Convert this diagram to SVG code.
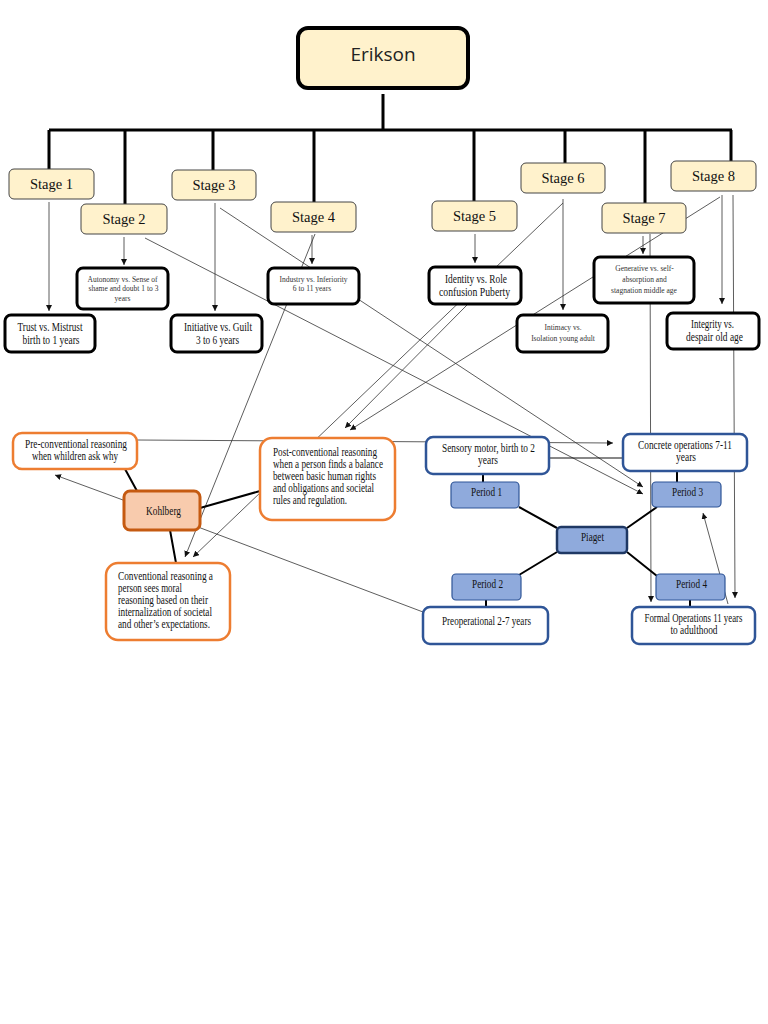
<svg xmlns="http://www.w3.org/2000/svg" width="768" height="1024" viewBox="0 0 768 1024">
<defs>
<marker id="arr" viewBox="0 0 10 10" refX="10" refY="5" markerWidth="6" markerHeight="6" markerUnits="userSpaceOnUse" orient="auto">
<path d="M0,0 L10,5 L0,10 z" fill="#111"/>
</marker>
<style>
.tree{stroke:#000;stroke-width:3;fill:none}
.thin{stroke:#333;stroke-width:0.8;fill:none}
.arrow{stroke:#333;stroke-width:0.8;fill:none;marker-end:url(#arr)}
.thick{stroke:#000;stroke-width:2;fill:none}
.stage rect{fill:#FFF2CC;stroke:#444;stroke-width:1}
.stage text{font-family:"Liberation Serif",serif;font-size:14.5px;fill:#111;text-anchor:middle}
.det rect{fill:#fff;stroke:#000;stroke-width:3}
.big{font-family:"Liberation Serif",serif;font-size:13px;fill:#111;text-anchor:middle}
.small{font-family:"Liberation Serif",serif;font-size:7.5px;fill:#333;text-anchor:middle}
.kb rect{fill:#fff;stroke:#ED7D31;stroke-width:2.5}
.pg rect{fill:#fff;stroke:#2F5597;stroke-width:2.5}
.per rect{fill:#8FAADC;stroke:#2F5597;stroke-width:1.2}
.cond{font-family:"Liberation Serif",serif;font-size:12.5px;fill:#111}
.mid{text-anchor:middle}
</style>
</defs>
<rect width="768" height="1024" fill="#fff"/>

<g id="connectors">
<path class="tree" d="M383 94V130M49 130H732M49 130V169M125 130V204M213 130V170M314 130V202M474 130V201M565 130V163M645 130V203M731 130V161"/>
<line class="arrow" x1="49" y1="202" x2="49" y2="311"/>
<line class="arrow" x1="124" y1="237" x2="124" y2="265"/>
<line class="arrow" x1="215" y1="203" x2="215" y2="311"/>
<line class="arrow" x1="312" y1="235" x2="312" y2="264"/>
<line class="arrow" x1="475" y1="234" x2="475" y2="263"/>
<line class="arrow" x1="563" y1="199" x2="563" y2="310"/>
<line class="arrow" x1="643" y1="236" x2="643" y2="254"/>
<line class="arrow" x1="722" y1="195" x2="722" y2="304"/>
<line class="arrow" x1="145" y1="238" x2="643" y2="494"/>
<line class="arrow" x1="220" y1="208" x2="643" y2="487"/>
<line class="arrow" x1="315" y1="234" x2="185" y2="557"/>
<line class="arrow" x1="563" y1="203" x2="193" y2="557"/>
<line class="arrow" x1="467" y1="305" x2="345" y2="428"/>
<line class="arrow" x1="720" y1="197" x2="350" y2="430"/>
<line class="thin" x1="198" y1="527" x2="423" y2="612"/>
<line class="arrow" x1="137" y1="440" x2="613" y2="443"/>
<line class="arrow" x1="650" y1="234" x2="651" y2="602"/>
<line class="arrow" x1="733" y1="195" x2="735" y2="598"/>
<line class="arrow" x1="728" y1="604" x2="703" y2="513"/>
<line class="arrow" x1="123" y1="500" x2="55" y2="475"/>
<line x1="549" y1="458" x2="623" y2="458" stroke="#111" stroke-width="1.2"/>
<path class="thick" d="M137 491L125 469M200 508L260 491M170 530L176 563"/>
<path class="thick" d="M483 474V482M677 471V482M519 507L557 528M657 507L627 528M557 552L519 575M627 552L657 576M486 600V607M690 600V607"/>
</g>

<g id="erikson">
<rect x="298" y="28" width="170" height="60" rx="10" fill="#FFF2CC" stroke="#000" stroke-width="4"/>
<text x="383" y="61" font-family="Open Sans, sans-serif" font-size="19" fill="#222" text-anchor="middle">Erikson</text>
</g>

<g id="stage1" class="stage"><rect x="9" y="169" width="85" height="30" rx="5"/><text x="51.5" y="189">Stage 1</text></g>
<g id="stage2" class="stage"><rect x="81" y="204" width="86" height="30" rx="5"/><text x="124" y="224">Stage 2</text></g>
<g id="stage3" class="stage"><rect x="172" y="170" width="84" height="30" rx="5"/><text x="214" y="190">Stage 3</text></g>
<g id="stage4" class="stage"><rect x="271" y="202" width="85" height="30" rx="5"/><text x="313.5" y="222">Stage 4</text></g>
<g id="stage5" class="stage"><rect x="432" y="201" width="85" height="30" rx="5"/><text x="474.5" y="221">Stage 5</text></g>
<g id="stage6" class="stage"><rect x="521" y="163" width="84" height="30" rx="5"/><text x="563" y="183">Stage 6</text></g>
<g id="stage7" class="stage"><rect x="602" y="203" width="84" height="30" rx="5"/><text x="644" y="223">Stage 7</text></g>
<g id="stage8" class="stage"><rect x="671" y="161" width="85" height="30" rx="5"/><text x="713.5" y="181">Stage 8</text></g>

<g id="trust" class="det"><rect x="5" y="315" width="90" height="37" rx="6"/>
<text class="big" x="50" y="331" textLength="65" lengthAdjust="spacingAndGlyphs">Trust vs. Mistrust</text>
<text class="big" x="51" y="344" textLength="57" lengthAdjust="spacingAndGlyphs">birth to 1 years</text></g>
<g id="autonomy" class="det"><rect x="77" y="268" width="91" height="41" rx="6"/>
<text class="small" x="122.5" y="282">Autonomy vs. Sense of</text>
<text class="small" x="123.5" y="291">shame and doubt 1 to 3</text>
<text class="small" x="122.5" y="301">years</text></g>
<g id="initiative" class="det"><rect x="171" y="315" width="91" height="37" rx="6"/>
<text class="big" x="218" y="331" textLength="68" lengthAdjust="spacingAndGlyphs">Initiative vs. Guilt</text>
<text class="big" x="217.5" y="344" textLength="43" lengthAdjust="spacingAndGlyphs">3 to 6 years</text></g>
<g id="industry" class="det"><rect x="268" y="268" width="91" height="36" rx="6"/>
<text class="small" x="313.5" y="282">Industry vs. Inferiority</text>
<text class="small" x="312" y="291">6 to 11 years</text></g>
<g id="identity" class="det"><rect x="429" y="267" width="92" height="37" rx="6"/>
<text class="big" x="476" y="283" textLength="62" lengthAdjust="spacingAndGlyphs">Identity vs. Role</text>
<text class="big" x="474.5" y="296" textLength="71" lengthAdjust="spacingAndGlyphs">confusion Puberty</text></g>
<g id="generative" class="det"><rect x="594" y="257" width="100" height="46" rx="6"/>
<text class="small" x="644.5" y="271">Generative vs. self-</text>
<text class="small" x="644.5" y="282">absorption and</text>
<text class="small" x="644" y="293">stagnation middle age</text></g>
<g id="intimacy" class="det"><rect x="517" y="315" width="91" height="37" rx="6"/>
<text class="small" x="563" y="330">Intimacy vs.</text>
<text class="small" x="563" y="341">Isolation young adult</text></g>
<g id="integrity" class="det"><rect x="667" y="313" width="92" height="36" rx="6"/>
<text class="big" x="712.5" y="328" textLength="43" lengthAdjust="spacingAndGlyphs">Integrity vs.</text>
<text class="big" x="714.5" y="341" textLength="57" lengthAdjust="spacingAndGlyphs">despair old age</text></g>

<g id="preconventional" class="kb"><rect x="13" y="433" width="124" height="36" rx="9"/>
<text class="cond mid" x="76" y="448" textLength="102" lengthAdjust="spacingAndGlyphs">Pre-conventional reasoning</text>
<text class="cond mid" x="75" y="460" textLength="86" lengthAdjust="spacingAndGlyphs">when whildren ask why</text></g>
<g id="kohlberg"><rect x="124" y="491" width="76" height="39" rx="6" fill="#F8CBAD" stroke="#C55A11" stroke-width="3"/>
<text class="cond mid" x="163.5" y="515" textLength="35" lengthAdjust="spacingAndGlyphs">Kohlberg</text></g>
<g id="postconventional" class="kb"><rect x="260" y="438" width="135" height="82" rx="12"/>
<text class="cond" x="273" y="456" textLength="104" lengthAdjust="spacingAndGlyphs">Post-conventional reasoning</text>
<text class="cond" x="273" y="468" textLength="110" lengthAdjust="spacingAndGlyphs">when a person finds a balance</text>
<text class="cond" x="273" y="480" textLength="103" lengthAdjust="spacingAndGlyphs">between basic human rights</text>
<text class="cond" x="273" y="492" textLength="101" lengthAdjust="spacingAndGlyphs">and obligations and societal</text>
<text class="cond" x="273" y="504" textLength="74" lengthAdjust="spacingAndGlyphs">rules and regulation.</text></g>
<g id="conventional" class="kb"><rect x="106" y="563" width="124" height="77" rx="12"/>
<text class="cond" x="118" y="580" textLength="95" lengthAdjust="spacingAndGlyphs">Conventional reasoning a</text>
<text class="cond" x="118" y="592" textLength="64" lengthAdjust="spacingAndGlyphs">person sees moral</text>
<text class="cond" x="118" y="604" textLength="90" lengthAdjust="spacingAndGlyphs">reasoning based on their</text>
<text class="cond" x="118" y="616" textLength="94" lengthAdjust="spacingAndGlyphs">internalization of societal</text>
<text class="cond" x="118" y="628" textLength="92" lengthAdjust="spacingAndGlyphs">and other’s expectations.</text></g>

<g id="sensorymotor" class="pg"><rect x="426" y="437" width="123" height="37" rx="7"/>
<text class="cond mid" x="488.5" y="452" textLength="93" lengthAdjust="spacingAndGlyphs">Sensory motor, birth to 2</text>
<text class="cond mid" x="488" y="464" textLength="20" lengthAdjust="spacingAndGlyphs">years</text></g>
<g id="concrete" class="pg"><rect x="623" y="434" width="124" height="37" rx="7"/>
<text class="cond mid" x="685" y="449" textLength="94" lengthAdjust="spacingAndGlyphs">Concrete operations 7-11</text>
<text class="cond mid" x="686" y="461" textLength="20" lengthAdjust="spacingAndGlyphs">years</text></g>
<g id="period1" class="per"><rect x="451" y="482" width="68" height="26" rx="4"/>
<text class="cond mid" x="486.5" y="496" textLength="31" lengthAdjust="spacingAndGlyphs">Period 1</text></g>
<g id="period3" class="per"><rect x="652" y="482" width="69" height="25" rx="4"/>
<text class="cond mid" x="687.5" y="496" textLength="31" lengthAdjust="spacingAndGlyphs">Period 3</text></g>
<g id="piaget"><rect x="557" y="527" width="70" height="26" rx="4" fill="#8FAADC" stroke="#1F3864" stroke-width="2.5"/>
<text class="cond mid" x="592.5" y="541" textLength="23" lengthAdjust="spacingAndGlyphs">Piaget</text></g>
<g id="period2" class="per"><rect x="452" y="574" width="69" height="26" rx="4"/>
<text class="cond mid" x="487.5" y="588" textLength="31" lengthAdjust="spacingAndGlyphs">Period 2</text></g>
<g id="period4" class="per"><rect x="656" y="574" width="69" height="26" rx="4"/>
<text class="cond mid" x="691.5" y="588" textLength="31" lengthAdjust="spacingAndGlyphs">Period 4</text></g>
<g id="preoperational" class="pg"><rect x="423" y="607" width="125" height="37" rx="7"/>
<text class="cond mid" x="486.5" y="625" textLength="89" lengthAdjust="spacingAndGlyphs">Preoperational 2-7 years</text></g>
<g id="formal" class="pg"><rect x="632" y="607" width="123" height="37" rx="7"/>
<text class="cond mid" x="693.5" y="622" font-size="12" textLength="98" lengthAdjust="spacingAndGlyphs">Formal Operations 11 years</text>
<text class="cond mid" x="694" y="634" font-size="12" textLength="47" lengthAdjust="spacingAndGlyphs">to adulthood</text></g>
</svg>
